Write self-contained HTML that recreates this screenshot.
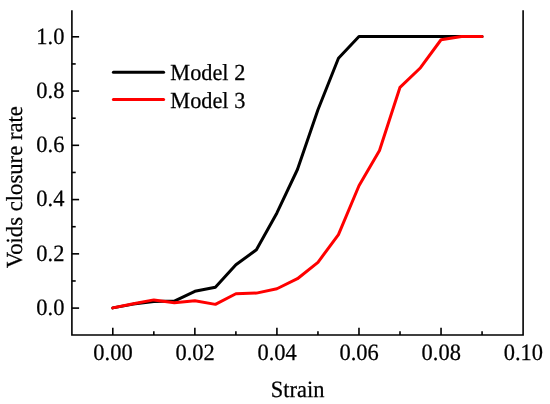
<!DOCTYPE html>
<html><head><meta charset="utf-8"><title>Voids closure rate</title>
<style>html,body{margin:0;padding:0;background:#fff}svg{display:block}</style></head>
<body>
<svg width="550" height="404" viewBox="0 0 550 404">
<rect width="550" height="404" fill="#fff"/>
<g stroke="#000" stroke-width="1.6" fill="none" stroke-linecap="butt">
<path d="M71.90 10.30 V334.95 H523.10 V10.30"/>
<path d="M71.90 308.10 h7.2"/>
<path d="M71.90 253.84 h7.2"/>
<path d="M71.90 199.58 h7.2"/>
<path d="M71.90 145.32 h7.2"/>
<path d="M71.90 91.06 h7.2"/>
<path d="M71.90 36.80 h7.2"/>
<path d="M71.90 280.97 h3.8"/>
<path d="M71.90 226.71 h3.8"/>
<path d="M71.90 172.45 h3.8"/>
<path d="M71.90 118.19 h3.8"/>
<path d="M71.90 63.93 h3.8"/>
<path d="M112.80 334.95 v-7.2"/>
<path d="M194.86 334.95 v-7.2"/>
<path d="M276.92 334.95 v-7.2"/>
<path d="M358.98 334.95 v-7.2"/>
<path d="M441.04 334.95 v-7.2"/>
<path d="M153.83 334.95 v-3.8"/>
<path d="M235.89 334.95 v-3.8"/>
<path d="M317.95 334.95 v-3.8"/>
<path d="M400.01 334.95 v-3.8"/>
<path d="M482.07 334.95 v-3.8"/>
</g>
<g fill="none" stroke-width="3" stroke-linejoin="round" stroke-linecap="round">
<path stroke="#000" d="M112.80 307.90 L133.31 304.10 L153.83 301.39 L174.34 301.11 L194.86 291.34 L215.38 287.27 L235.89 264.75 L256.41 249.82 L276.92 212.91 L297.44 169.49 L317.95 109.78 L338.46 58.21 L358.98 36.50 L379.50 36.50 L400.01 36.50 L420.52 36.50 L441.04 36.50 L461.56 36.50 L482.07 36.50"/>
<path stroke="#ff0000" d="M112.80 307.90 L133.31 303.69 L153.83 299.89 L174.34 302.74 L194.86 300.84 L215.38 304.37 L235.89 293.79 L256.41 293.11 L276.92 288.77 L297.44 278.72 L317.95 262.30 L338.46 234.62 L358.98 185.77 L379.50 150.49 L400.01 87.33 L420.52 67.71 L441.04 39.76 L461.56 36.50 L482.07 36.50"/>
<path stroke="#000" d="M113.4 72.3 H163.6"/>
<path stroke="#ff0000" d="M113.4 99.5 H163.6"/>
</g>
<g font-family="'Liberation Serif', serif" font-size="23.4" fill="#000" stroke="#000" stroke-width="0.25" text-rendering="geometricPrecision">
<text transform="translate(64.40 314.70) scale(0.960 1)" text-anchor="end">0.0</text>
<text transform="translate(64.40 260.50) scale(0.960 1)" text-anchor="end">0.2</text>
<text transform="translate(64.40 206.30) scale(0.960 1)" text-anchor="end">0.4</text>
<text transform="translate(64.40 152.10) scale(0.960 1)" text-anchor="end">0.6</text>
<text transform="translate(64.40 97.90) scale(0.960 1)" text-anchor="end">0.8</text>
<text transform="translate(64.40 43.70) scale(0.960 1)" text-anchor="end">1.0</text>
<text transform="translate(113.00 359.60) scale(0.960 1)" text-anchor="middle">0.00</text>
<text transform="translate(195.06 359.60) scale(0.960 1)" text-anchor="middle">0.02</text>
<text transform="translate(277.12 359.60) scale(0.960 1)" text-anchor="middle">0.04</text>
<text transform="translate(359.18 359.60) scale(0.960 1)" text-anchor="middle">0.06</text>
<text transform="translate(441.24 359.60) scale(0.960 1)" text-anchor="middle">0.08</text>
<text transform="translate(523.30 359.60) scale(0.960 1)" text-anchor="middle">0.10</text>
<text transform="translate(297.60 396.60) scale(0.960 1)" text-anchor="middle">Strain</text>
<text transform="translate(21.80 187.20) rotate(-90) scale(0.987 1)" text-anchor="middle" font-size="23">Voids closure rate</text>
<text transform="translate(170.30 79.85) scale(0.970 1)" text-anchor="start" font-size="23">Model 2</text>
<text transform="translate(170.30 107.60) scale(0.970 1)" text-anchor="start" font-size="23">Model 3</text>
</g>
</svg>
</body></html>
